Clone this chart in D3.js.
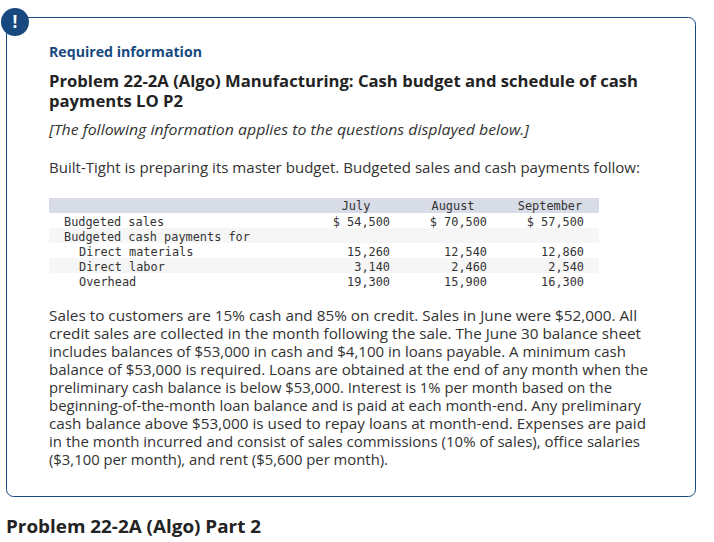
<!DOCTYPE html>
<html>
<head>
<meta charset="utf-8">
<script src="https://cdn.jsdelivr.net/npm/d3@7"></script>
<style>
  html, body { margin: 0; padding: 0; background: #fff; }
  svg { display: block; }
</style>
</head>
<body>
<div id="card"></div>
<script>
"use strict";

const months = ["July", "August", "September"];
const rowLabels = ["Budgeted sales", "Budgeted cash payments for", "Direct materials", "Direct labor", "Overhead"];
const rowIndent = [0, 0, 1, 1, 1];
const julyValues = ["$ 54,500", "", "15,260", "3,140", "19,300"];
const augustValues = ["$ 70,500", "", "12,540", "2,460", "15,900"];
const septemberValues = ["$ 57,500", "", "12,860", "2,540", "16,300"];

const titleLines = ["Problem 22-2A (Algo) Manufacturing: Cash budget and schedule of cash", "payments LO P2"];
const paragraphLines = [
    "Sales to customers are 15% cash and 85% on credit. Sales in June were $52,000. All",
    "credit sales are collected in the month following the sale. The June 30 balance sheet",
    "includes balances of $53,000 in cash and $4,100 in loans payable. A minimum cash",
    "balance of $53,000 is required. Loans are obtained at the end of any month when the",
    "preliminary cash balance is below $53,000. Interest is 1% per month based on the",
    "beginning-of-the-month loan balance and is paid at each month-end. Any preliminary",
    "cash balance above $53,000 is used to repay loans at month-end. Expenses are paid",
    "in the month incurred and consist of sales commissions (10% of sales), office salaries",
    "($3,100 per month), and rent ($5,600 per month)."
];
// right edge of each paragraph line as measured on the picture
const paragraphEnds = [637, 641, 626, 648, 612, 641, 646, 640, 388];

const width = 714, height = 542;
const sansFont = "'Open Sans', Lato, sans-serif";
const monoFont = "'DejaVu Sans Mono', monospace";
const blue = "#17497f", ink = "#232323";
const charWidth = 7.15;

const svg = d3.select("#card").append("svg")
    .attr("width", width)
    .attr("height", height)
    .attr("viewBox", [0, 0, width, height]);

// Card outline and the badge on its corner
svg.append("rect")
    .attr("x", 6.5).attr("y", 17.5)
    .attr("width", 689).attr("height", 479)
    .attr("rx", 7)
    .attr("fill", "none")
    .attr("stroke", blue)
    .attr("stroke-width", 1);

svg.append("circle")
    .attr("cx", 15).attr("cy", 22).attr("r", 14)
    .attr("fill", blue);

AddText("!", 15, 28, { size: 17, weight: 700, fill: "#fff", anchor: "middle" });

AddText("Required information", 49, 57, { size: 14, weight: 700, fill: blue, end: 202 });
titleLines.forEach((line, i) => AddText(line, 49, 87 + i * 20, { size: 16, weight: 700, fill: ink, end: i === 0 ? 638 : 183 }));
AddText("[The following information applies to the questions displayed below.]", 49, 135, { size: 14.5, style: "italic", fill: "#333", end: 529 });
AddText("Built-Tight is preparing its master budget. Budgeted sales and cash payments follow:", 49, 173, { size: 14.5, fill: "#333", end: 640 });

// Budget table
const rowScale = d3.scaleBand()
    .domain(d3.range(rowLabels.length))
    .range([213, 288]);

svg.append("rect")
    .attr("x", 49).attr("y", 198)
    .attr("width", 550).attr("height", 15)
    .attr("fill", "#d8dce6");

svg.append("g")
    .selectAll("rect")
    .data(rowLabels)
    .join("rect")
    .attr("x", 49)
    .attr("y", (d, i) => rowScale(i))
    .attr("width", 550)
    .attr("height", rowScale.bandwidth())
    .attr("fill", (d, i) => i % 2 ? "#f6f6f6" : "#fff");

const monoText = (g) => g
    .attr("font-family", monoFont)
    .attr("font-size", 11.9)
    .attr("fill", "#333");

svg.append("g")
    .call(monoText)
    .selectAll("text")
    .data(rowLabels)
    .join("text")
    .attr("x", (d, i) => 64 + rowIndent[i] * 15)
    .attr("y", (d, i) => rowScale(i) + 12.5)
    .attr("textLength", d => d.length * charWidth)
    .attr("lengthAdjust", "spacingAndGlyphs")
    .text(d => d);

const columnEnds = [390, 487, 584];
const columnHeadCenters = [356, 453, 550];

[julyValues, augustValues, septemberValues].forEach((values, c) => {
    const column = svg.append("g").call(monoText);

    column.append("text")
        .attr("x", columnHeadCenters[c])
        .attr("y", 210)
        .attr("text-anchor", "middle")
        .attr("textLength", months[c].length * charWidth)
        .attr("lengthAdjust", "spacingAndGlyphs")
        .text(months[c]);

    column.selectAll(".cell")
        .data(values)
        .join("text")
        .attr("class", "cell")
        .attr("x", d => columnEnds[c] - d.length * charWidth)
        .attr("y", (d, i) => rowScale(i) + 12.5)
        .attr("textLength", d => d.length * charWidth)
        .attr("lengthAdjust", "spacingAndGlyphs")
        .text(d => d);
});

// Paragraph below the table
paragraphLines.forEach((line, i) => AddText(line, 49, 320.5 + i * 18, { size: 14.5, fill: "#333", end: paragraphEnds[i] }));

AddText("Problem 22-2A (Algo) Part 2", 6, 533, { size: 17.5, weight: 700, fill: ink, end: 261 });

// Draw one line of text, stretched to end at the x seen on the picture
function AddText(content, x, y, opts) {
    const t = svg.append("text")
        .attr("x", x)
        .attr("y", y)
        .attr("font-family", sansFont)
        .attr("font-size", opts.size)
        .attr("font-weight", opts.weight || 400)
        .attr("font-style", opts.style || "normal")
        .attr("fill", opts.fill)
        .attr("text-anchor", opts.anchor || "start")
        .text(content);
    if (opts.end) {
        t.attr("textLength", opts.end - x).attr("lengthAdjust", "spacingAndGlyphs");
    }
    return t;
}
</script>
</body>
</html>
